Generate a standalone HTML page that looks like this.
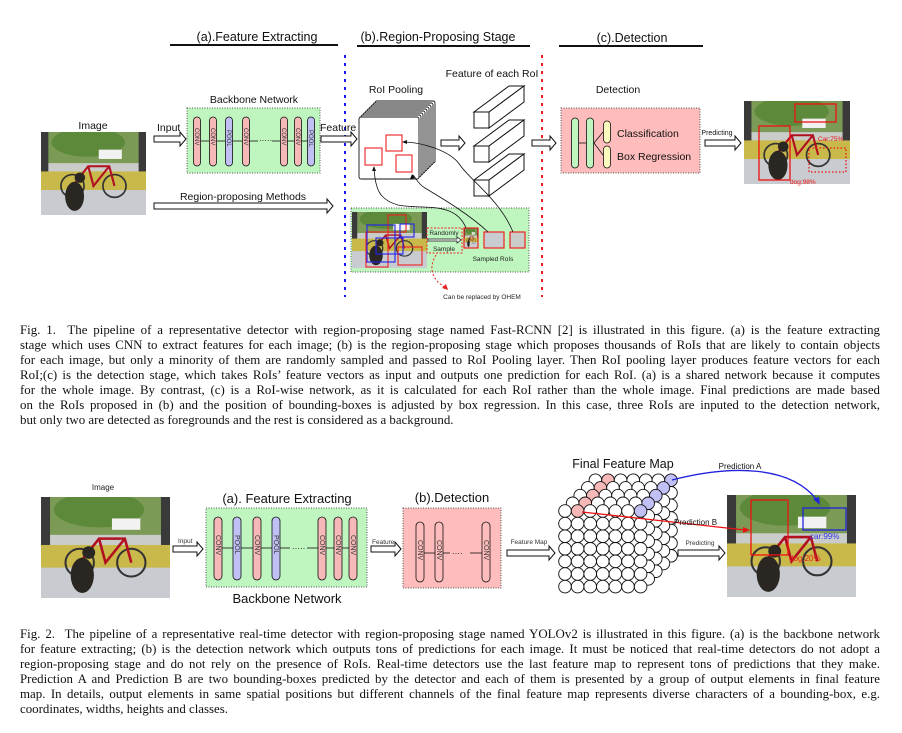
<!DOCTYPE html>
<html><head><meta charset="utf-8"><style>
html,body{margin:0;padding:0;background:#fff;}
#wrap{position:relative;width:902px;height:733px;overflow:hidden;}
svg{position:absolute;left:0;top:0;}
.cap{position:absolute;left:20px;width:860px;font-family:"Liberation Serif",serif;font-size:12.9px;line-height:15px;color:#111;}
.cap div{text-align:justify;text-align-last:justify;white-space:nowrap;height:15px;}
.cap div.l{text-align-last:left;}
</style></head><body><div id="wrap">
<svg width="902" height="733" viewBox="0 0 902 733" font-family="Liberation Sans, sans-serif">
<defs>
<symbol id="photo" viewBox="0 0 100 80" preserveAspectRatio="none">
<rect width="100" height="80" fill="#c9ccc8"/>
<rect width="100" height="30" fill="#7a9a55"/>
<ellipse cx="45" cy="10" rx="35" ry="14" fill="#5d8a3a"/>
<rect x="55" y="17" width="22" height="9" fill="#f2f2f2"/>
<rect x="0" y="0" width="7" height="50" fill="#3a3a3a"/>
<rect x="93" y="0" width="7" height="50" fill="#3a3a3a"/>
<rect x="0" y="38" width="100" height="18" fill="#c9b84a"/>
<rect x="0" y="56" width="100" height="24" fill="#c8cbcf"/>
<circle cx="30" cy="52" r="11" fill="none" stroke="#333" stroke-width="1.6"/>
<circle cx="70" cy="52" r="11" fill="none" stroke="#333" stroke-width="1.6"/>
<path d="M30 52 L45 33 L65 33 L70 52 M45 33 L50 52 L65 33" fill="none" stroke="#b01020" stroke-width="2"/>
<ellipse cx="32" cy="62" rx="9" ry="14" fill="#2a2622"/>
<circle cx="37" cy="44" r="5" fill="#2a2622"/>
</symbol>
</defs>

<g font-size="12.5" fill="#111">
<text x="257" y="41" text-anchor="middle">(a).Feature Extracting</text>
<text x="438" y="41" text-anchor="middle">(b).Region-Proposing Stage</text>
<text x="632" y="42" text-anchor="middle">(c).Detection</text>
</g>
<g stroke="#111" stroke-width="2">
<line x1="170" y1="45" x2="338" y2="45"/>
<line x1="357" y1="46" x2="530" y2="46"/>
<line x1="559" y1="46" x2="703" y2="46"/>
</g>
<line x1="345" y1="55" x2="345" y2="297" stroke="#1a1aee" stroke-width="2" stroke-dasharray="3,5"/>
<line x1="542" y1="55" x2="542" y2="297" stroke="#ee1a1a" stroke-width="2" stroke-dasharray="3,5"/>

<use href="#photo" x="41" y="132" width="105" height="83"/>

<g fill="#fff" stroke="#111" stroke-width="1">
<polygon points="154,136 180,136 180,132 186,139 180,146 180,142 154,142"/>
<polygon points="321,136 351,136 351,132 357,139 351,146 351,142 321,142"/>
<polygon points="441,140 459,140 459,136 465,143 459,150 459,146 441,146"/>
<polygon points="532,140 550,140 550,136 556,143 550,150 550,146 532,146"/>
<polygon points="705,140 735,140 735,136 741,143 735,150 735,146 705,146"/>
<polygon points="154,203 327,203 327,199 333,206 327,213 327,209 154,209"/>
</g>

<rect x="187" y="108" width="133" height="65" fill="#bff5bf" stroke="#555" stroke-dasharray="1,1.5"/>
<g stroke="#111" stroke-width="0.8">
<rect x="193.5" y="117" width="7" height="49" rx="3.5" fill="#f7b8b8"/>
<rect x="209.5" y="117" width="7" height="49" rx="3.5" fill="#f7b8b8"/>
<rect x="225.5" y="117" width="7" height="49" rx="3.5" fill="#c0c0f5"/>
<rect x="242.5" y="117" width="7" height="49" rx="3.5" fill="#f7b8b8"/>
<rect x="280.5" y="117" width="7" height="49" rx="3.5" fill="#f7b8b8"/>
<rect x="294.5" y="117" width="7" height="49" rx="3.5" fill="#f7b8b8"/>
<rect x="307.5" y="117" width="7" height="49" rx="3.5" fill="#c0c0f5"/>
</g>
<g stroke="#111" stroke-width="0.8">
<line x1="201" y1="141" x2="209" y2="141"/><line x1="217" y1="141" x2="225" y2="141"/>
<line x1="233" y1="141" x2="242" y2="141"/><line x1="250" y1="141" x2="258" y2="141"/>
<line x1="272" y1="141" x2="280" y2="141"/><line x1="288" y1="141" x2="294" y2="141"/><line x1="302" y1="141" x2="307" y2="141"/>
</g>
<text x="259" y="143" font-size="8">·····</text>
<g font-size="6" fill="#333">
<text transform="translate(195,128) rotate(90)">CONV</text>
<text transform="translate(211,128) rotate(90)">CONV</text>
<text transform="translate(227,130) rotate(90)">POOL</text>
<text transform="translate(244,128) rotate(90)">CONV</text>
<text transform="translate(282,128) rotate(90)">CONV</text>
<text transform="translate(296,128) rotate(90)">CONV</text>
<text transform="translate(309,130) rotate(90)">POOL</text>
</g>

<g fill="#fff" stroke="#111" stroke-width="0.9">
<rect x="375" y="101" width="60" height="62" rx="2"/>
<rect x="373" y="103" width="60" height="62" rx="2"/>
<rect x="371" y="105" width="60" height="62" rx="2"/>
<rect x="369" y="107" width="60" height="62" rx="2"/>
<rect x="367" y="109" width="60" height="62" rx="2"/>
<rect x="365" y="111" width="60" height="62" rx="2"/>
<rect x="363" y="113" width="60" height="62" rx="2"/>
<rect x="361" y="115" width="60" height="62" rx="2"/>
<rect x="359" y="117" width="60" height="62" rx="2"/>
</g>
<g fill="none" stroke="#e33" stroke-width="1.2">
<rect x="386" y="135" width="16" height="16"/>
<rect x="365" y="148" width="17" height="17"/>
<rect x="396" y="155" width="16" height="17"/>
</g>

<g fill="#fff" stroke="#111" stroke-width="1">
<polygon points="474,112 489,112 524,86 509,86"/><polygon points="489,112 524,86 524,102 489,128"/><rect x="474" y="112" width="15" height="16"/>
<polygon points="474,146 489,146 524,120 509,120"/><polygon points="489,146 524,120 524,136 489,162"/><rect x="474" y="146" width="15" height="16"/>
<polygon points="474,180 489,180 524,154 509,154"/><polygon points="489,180 524,154 524,170 489,196"/><rect x="474" y="180" width="15" height="16"/>
</g>

<rect x="561" y="108" width="139" height="65" fill="#ffbcbc" stroke="#555" stroke-dasharray="1,1.5"/>
<g stroke="#111" stroke-width="0.8">
<rect x="571.5" y="118" width="7" height="50" rx="3.5" fill="#bff5bf"/>
<rect x="586.5" y="118" width="7" height="50" rx="3.5" fill="#bff5bf"/>
<rect x="603.5" y="121" width="7" height="22" rx="3.5" fill="#fbfbc0"/>
<rect x="603.5" y="146" width="7" height="22" rx="3.5" fill="#fbfbc0"/>
<line x1="579" y1="143" x2="586" y2="143"/>
<line x1="594" y1="143" x2="603" y2="132"/><line x1="594" y1="143" x2="603" y2="155"/>
</g>
<text x="717" y="135" font-size="7" text-anchor="middle" fill="#111">Predicting</text>

<g font-size="10.5" fill="#111">
<text x="93" y="129" text-anchor="middle">Image</text>
<text x="157" y="131">Input</text>
<text x="254" y="103" text-anchor="middle">Backbone Network</text>
<text x="320" y="131">Feature</text>
<text x="396" y="93" text-anchor="middle">RoI Pooling</text>
<text x="492" y="77" text-anchor="middle">Feature of each RoI</text>
<text x="618" y="93" text-anchor="middle">Detection</text>
<text x="617" y="137">Classification</text>
<text x="617" y="160">Box Regression</text>
<text x="243" y="200" text-anchor="middle">Region-proposing Methods</text>
</g>

<use href="#photo" x="744" y="101" width="106" height="83"/>
<g fill="none" stroke="#e11" stroke-width="1.3">
<rect x="795" y="104" width="41" height="18"/>
<rect x="759" y="126" width="31" height="54"/>
<rect x="809" y="148" width="37" height="24" stroke-dasharray="1.5,2"/>
</g>
<text x="818" y="141" font-size="6.5" fill="#e11">Car:75%</text>
<text x="790" y="184" font-size="6.5" fill="#e11">dog:98%</text>

<rect x="351" y="208" width="178" height="64" fill="#bff5bf" stroke="#555" stroke-dasharray="1,1.5"/>
<use href="#photo" x="352" y="212" width="75" height="56"/>
<g fill="none" stroke-width="1.1">
<rect x="388" y="215" width="18" height="17" stroke="#e22"/>
<rect x="366" y="232" width="22" height="35" stroke="#e22"/>
<rect x="398" y="247" width="24" height="18" stroke="#e22"/>
<rect x="367" y="225" width="28" height="37" stroke="#22e"/>
<rect x="376" y="238" width="27" height="16" stroke="#22e"/>
<rect x="400" y="224" width="14" height="13" stroke="#22e"/>
</g>
<rect x="427" y="228" width="35" height="25" fill="none" stroke="#e22" stroke-dasharray="2,1.5"/>
<text x="444" y="235" font-size="6.5" text-anchor="middle" fill="#222">Randomly</text>
<text x="444" y="251" font-size="6.5" text-anchor="middle" fill="#222">Sample</text>
<polygon points="428,239 457,239 457,237 461,240 457,243 457,241 428,241" fill="#fff" stroke="#111" stroke-width="0.7"/>
<use href="#photo" x="464" y="228" width="14" height="20"/>
<rect x="464" y="228" width="14" height="20" fill="none" stroke="#e22" stroke-width="1.2"/>
<rect x="484" y="232" width="20" height="16" fill="#c8cbcf" stroke="#e22" stroke-width="1.2"/>
<rect x="510" y="232" width="15" height="16" fill="#c9ccc8" stroke="#e22" stroke-width="1.2"/>
<text x="493" y="261" font-size="6.5" text-anchor="middle" fill="#222">Sampled RoIs</text>
<g fill="none" stroke="#111" stroke-width="0.8">
<path d="M466,228 C455,200 420,210 398,205 C380,200 375,190 374,167"/>
<path d="M488,232 C470,215 445,200 425,188 C418,184 416,178 413,175"/>
<path d="M513,232 C500,200 470,180 460,165 C450,150 420,142 403,142"/>
</g>
<g fill="#111"><polygon points="374,166 372,171 376,171"/><polygon points="412,174 410,179 415,178"/><polygon points="402,142 407,140 407,144"/></g>
<path d="M436,255 C428,268 432,280 446,288" fill="none" stroke="#e22" stroke-width="1" stroke-dasharray="2,2"/>
<polygon points="448,290 442,288 446,284" fill="#e22"/>
<text x="482" y="299" font-size="6.5" text-anchor="middle" fill="#222">Can be replaced by OHEM</text>

<text x="103" y="490" font-size="8" text-anchor="middle" fill="#222">Image</text>
<use href="#photo" x="41" y="497" width="129" height="101"/>
<text x="178" y="543" font-size="6.5" fill="#333">Input</text>
<text x="287" y="503" font-size="13" text-anchor="middle" fill="#111">(a). Feature Extracting</text>
<text x="287" y="603" font-size="13" text-anchor="middle" fill="#111">Backbone Network</text>
<text x="452" y="502" font-size="13" text-anchor="middle" fill="#111">(b).Detection</text>
<text x="372" y="544" font-size="6.5" fill="#333">Feature</text>
<text x="529" y="544" font-size="6.5" text-anchor="middle" fill="#333">Feature Map</text>
<text x="700" y="545" font-size="6.5" text-anchor="middle" fill="#333">Predicting</text>
<text x="623" y="468" font-size="12.5" text-anchor="middle" fill="#111">Final Feature Map</text>
<g fill="#fff" stroke="#111" stroke-width="1">
<polygon points="173,546 197,546 197,542 203,549 197,556 197,552 173,552"/>
<polygon points="371,546 395,546 395,542 401,549 395,556 395,552 371,552"/>
<polygon points="507,550 549,550 549,546 555,553 549,560 549,556 507,556"/>
<polygon points="678,550 719,550 719,546 725,553 719,560 719,556 678,556"/>
</g>
<rect x="206" y="508" width="161" height="79" fill="#bff5bf" stroke="#555" stroke-dasharray="1,1.5"/>
<g stroke="#111" stroke-width="0.8">
<rect x="214" y="517" width="8" height="63" rx="4" fill="#f7b8b8"/>
<rect x="233" y="517" width="8" height="63" rx="4" fill="#c0c0f5"/>
<rect x="253" y="517" width="8" height="63" rx="4" fill="#f7b8b8"/>
<rect x="272" y="517" width="8" height="63" rx="4" fill="#c0c0f5"/>
<rect x="318" y="517" width="8" height="63" rx="4" fill="#f7b8b8"/>
<rect x="334" y="517" width="8" height="63" rx="4" fill="#f7b8b8"/>
<rect x="349" y="517" width="8" height="63" rx="4" fill="#f7b8b8"/>
<line x1="222" y1="548" x2="233" y2="548"/><line x1="241" y1="548" x2="253" y2="548"/>
<line x1="261" y1="548" x2="272" y2="548"/><line x1="280" y1="548" x2="290" y2="548"/>
<line x1="307" y1="548" x2="318" y2="548"/><line x1="326" y1="548" x2="334" y2="548"/><line x1="342" y1="548" x2="349" y2="548"/>
</g>
<text x="292" y="551" font-size="8">·····</text>
<g font-size="7" fill="#333">
<text transform="translate(216,535) rotate(90)">CONV</text>
<text transform="translate(235,535) rotate(90)">POOL</text>
<text transform="translate(255,535) rotate(90)">CONV</text>
<text transform="translate(274,535) rotate(90)">POOL</text>
<text transform="translate(320,535) rotate(90)">CONV</text>
<text transform="translate(336,535) rotate(90)">CONV</text>
<text transform="translate(351,535) rotate(90)">CONV</text>
</g>
<rect x="403" y="508" width="98" height="80" fill="#ffbcbc" stroke="#555" stroke-dasharray="1,1.5"/>
<g stroke="#111" stroke-width="0.8">
<rect x="416" y="522" width="8" height="60" rx="4" fill="#ffbcbc"/>
<rect x="435" y="522" width="8" height="60" rx="4" fill="#ffbcbc"/>
<rect x="482" y="522" width="8" height="60" rx="4" fill="#ffbcbc"/>
<line x1="424" y1="553" x2="435" y2="553"/><line x1="443" y1="553" x2="450" y2="553"/><line x1="470" y1="553" x2="482" y2="553"/>
</g>
<text x="452" y="556" font-size="8">····</text>
<g font-size="7" fill="#333">
<text transform="translate(418,540) rotate(90)">CONV</text>
<text transform="translate(437,540) rotate(90)">CONV</text>
<text transform="translate(484,540) rotate(90)">CONV</text>
</g>

<g id="cube" stroke="#111" stroke-width="0.9"></g>

<use href="#photo" x="727" y="495" width="129" height="102"/>
<rect x="751" y="500" width="37" height="55" fill="none" stroke="#e11" stroke-width="1.3"/>
<rect x="803" y="508" width="43" height="22" fill="none" stroke="#22d" stroke-width="1.3"/>
<text x="810" y="539" font-size="8" fill="#33e">car:99%</text>
<text x="789" y="561" font-size="8" fill="#e22">dog:20%</text>
<path d="M672,480 C730,465 790,465 817,500" fill="none" stroke="#22d" stroke-width="1.3"/>
<polygon points="820,505 813,499 819,497" fill="#22d"/>
<text x="740" y="469" font-size="8" text-anchor="middle" fill="#111">Prediction A</text>
<line x1="582" y1="512" x2="745" y2="530" stroke="#e11" stroke-width="1.3"/>
<polygon points="750,530 743,527 743,533" fill="#e11"/>
<text x="674" y="525" font-size="8" fill="#111">Prediction B</text>
</svg>

<div class="cap" style="top:323px">
<div>Fig. 1.&nbsp; The pipeline of a representative detector with region-proposing stage named Fast-RCNN [2] is illustrated in this figure. (a) is the feature extracting</div>
<div>stage which uses CNN to extract features for each image; (b) is the region-proposing stage which proposes thousands of RoIs that are likely to contain objects</div>
<div>for each image, but only a minority of them are randomly sampled and passed to RoI Pooling layer. Then RoI pooling layer produces feature vectors for each</div>
<div>RoI;(c) is the detection stage, which takes RoIs’ feature vectors as input and outputs one prediction for each RoI. (a) is a shared network because it computes</div>
<div>for the whole image. By contrast, (c) is a RoI-wise network, as it is calculated for each RoI rather than the whole image. Final predictions are made based</div>
<div>on the RoIs proposed in (b) and the position of bounding-boxes is adjusted by box regression. In this case, three RoIs are inputed to the detection network,</div>
<div class="l">but only two are detected as foregrounds and the rest is considered as a background.</div>
</div>
<div class="cap" style="top:627px">
<div>Fig. 2.&nbsp; The pipeline of a representative real-time detector with region-proposing stage named YOLOv2 is illustrated in this figure. (a) is the backbone network</div>
<div>for feature extracting; (b) is the detection network which outputs tons of predictions for each image. It must be noticed that real-time detectors do not adopt a</div>
<div>region-proposing stage and do not rely on the presence of RoIs. Real-time detectors use the last feature map to represent tons of predictions that they make.</div>
<div>Prediction A and Prediction B are two bounding-boxes predicted by the detector and each of them is presented by a group of output elements in final feature</div>
<div>map. In details, output elements in same spatial positions but different channels of the final feature map represents diverse characters of a bounding-box, e.g.</div>
<div class="l">coordinates, widths, heights and classes.</div>
</div>
</div>
<script>
(function(){
var g=document.getElementById('cube'),s='';
var L=5,dx=7.6,dy=-7.7,x0=565,y0=511,sp=12.6,r=6.3;
for(var l=L-1;l>=0;l--){
 for(var row=0;row<7;row++){
  for(var c=0;c<7;c++){
   if(l>0 && !(row==0||c==6)) continue;
   var f='#fff';
   if(row==0&&c==1)f='#f7b8b8';
   if(row==0&&c==6)f='#c0c0f5';
   s+='<circle cx="'+(x0+c*sp+l*dx).toFixed(1)+'" cy="'+(y0+row*sp+l*dy).toFixed(1)+'" r="'+r+'" fill="'+f+'"/>';
  }
 }
}
g.innerHTML=s;
})();
</script>
</body></html>
